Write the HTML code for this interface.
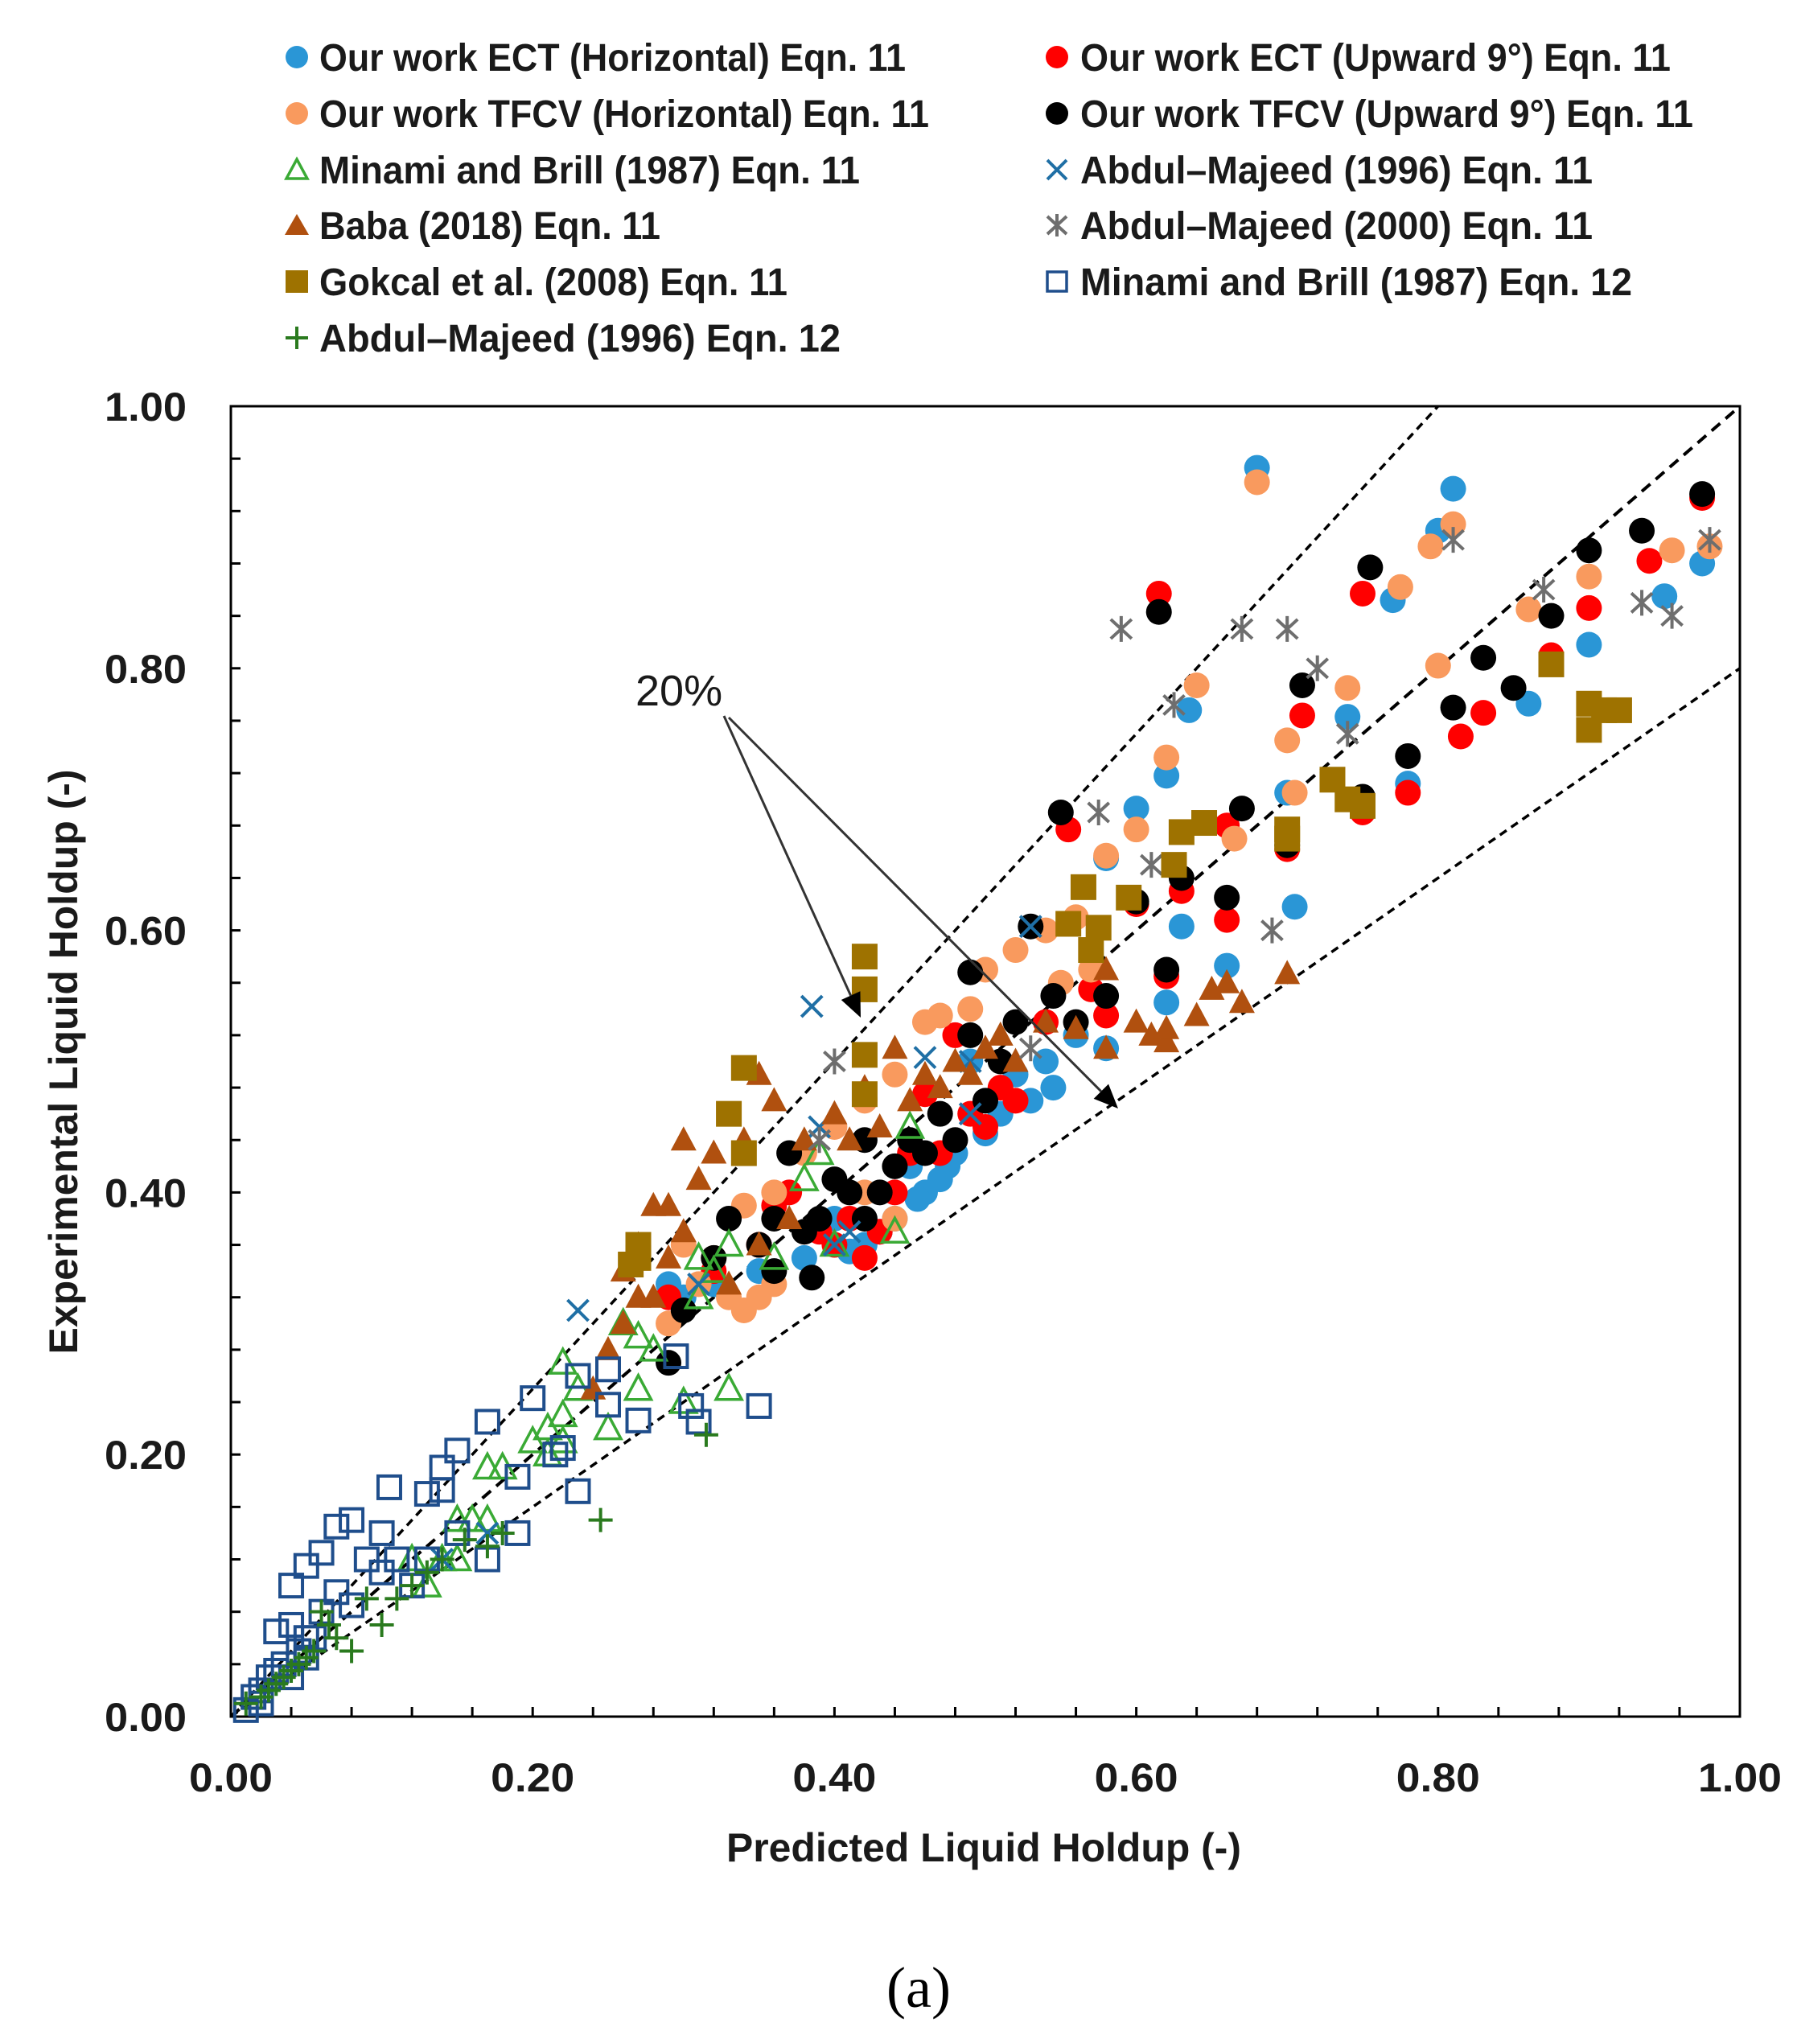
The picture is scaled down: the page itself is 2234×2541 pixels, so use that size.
<!DOCTYPE html>
<html><head><meta charset="utf-8"><style>
html,body{margin:0;padding:0;background:#fff;}
svg{display:block;}
</style></head><body>
<svg id="s" xmlns="http://www.w3.org/2000/svg" width="2234" height="2541" viewBox="0 0 2234 2541" font-family="'Liberation Sans', sans-serif">
<rect width="2234" height="2541" fill="#fff"/>
<g id="legend" font-weight="bold" font-size="48" fill="#1a1a1a">
<circle cx="369" cy="71" r="14" fill="#2a96d6"/><text x="397" y="88" textLength="729" lengthAdjust="spacingAndGlyphs">Our work ECT (Horizontal) Eqn. 11</text>
<circle cx="369" cy="141" r="14" fill="#f99a5e"/><text x="397" y="158" textLength="758" lengthAdjust="spacingAndGlyphs">Our work TFCV (Horizontal) Eqn. 11</text>
<path d="M369,198 L382,222 L356,222 Z" fill="none" stroke="#3aaa35" stroke-width="3.5"/><text x="397" y="228" textLength="672" lengthAdjust="spacingAndGlyphs">Minami and Brill (1987) Eqn. 11</text>
<path d="M369,266 L384,292 L354,292 Z" fill="#b0500f"/><text x="397" y="297" textLength="424" lengthAdjust="spacingAndGlyphs">Baba (2018) Eqn. 11</text>
<rect x="355" y="336" width="28" height="28" fill="#9e7200"/><text x="397" y="367" textLength="582" lengthAdjust="spacingAndGlyphs">Gokcal et al. (2008) Eqn. 11</text>
<path d="M369,406 V434 M355,420 H383" stroke="#2a7a1e" stroke-width="4"/><text x="397" y="437" textLength="648" lengthAdjust="spacingAndGlyphs">Abdul–Majeed (1996)  Eqn. 12</text>
<circle cx="1314" cy="71" r="14" fill="#f00"/><text x="1343" y="88" textLength="734" lengthAdjust="spacingAndGlyphs">Our work ECT (Upward 9°) Eqn. 11</text>
<circle cx="1314" cy="141" r="14" fill="#000"/><text x="1343" y="158" textLength="762" lengthAdjust="spacingAndGlyphs">Our work TFCV (Upward 9°) Eqn. 11</text>
<path d="M1302,199 L1326,223 M1326,199 L1302,223" stroke="#1f6fa5" stroke-width="4"/><text x="1343" y="228" textLength="637" lengthAdjust="spacingAndGlyphs">Abdul–Majeed (1996) Eqn. 11</text>
<path d="M1302,269 L1326,291 M1326,269 L1302,291 M1314,266 V294" stroke="#6e6e6e" stroke-width="4"/><text x="1343" y="297" textLength="637" lengthAdjust="spacingAndGlyphs">Abdul–Majeed (2000) Eqn. 11</text>
<rect x="1302" y="338" width="24" height="24" fill="none" stroke="#1f4e8c" stroke-width="3.5"/><text x="1343" y="367" textLength="686" lengthAdjust="spacingAndGlyphs">Minami and Brill (1987)  Eqn. 12</text>
</g>
<g id="axes"></g>
<g id="pts"></g>
<g id="ann"></g>
<text x="1223" y="2314" font-weight="bold" font-size="50" fill="#1a1a1a" text-anchor="middle" textLength="640" lengthAdjust="spacingAndGlyphs">Predicted Liquid Holdup (-)</text>
<text transform="translate(96,1320) rotate(-90)" font-weight="bold" font-size="50" fill="#1a1a1a" text-anchor="middle" textLength="727" lengthAdjust="spacingAndGlyphs">Experimental Liquid Holdup (-)</text>
<text x="1142" y="2495" font-family="'Liberation Serif', serif" font-size="72" fill="#000" text-anchor="middle">(a)</text>
</svg>
<script>
var NS="http://www.w3.org/2000/svg";
function X(p){return 287+p*1876;}
function Y(e){return 2134-e*1629;}
function el(par,tag,attrs,txt){var e=document.createElementNS(NS,tag);for(var k in attrs)e.setAttribute(k,attrs[k]);if(txt!==undefined)e.textContent=txt;par.appendChild(e);return e;}
var ax=document.getElementById('axes');
el(ax,'rect',{x:287,y:505,width:1876,height:1629,fill:'none',stroke:'#000','stroke-width':3});
for(var i=1;i<25;i++){var v=i*0.04;
 el(ax,'line',{x1:X(v),x2:X(v),y1:2134,y2:2122,stroke:'#000','stroke-width':3});
 el(ax,'line',{x1:287,x2:299,y1:Y(v),y2:Y(v),stroke:'#000','stroke-width':3});}
var labs=['0.00','0.20','0.40','0.60','0.80','1.00'];
for(var i=0;i<6;i++){var v=i*0.2;
 el(ax,'text',{x:X(v),y:2227,'text-anchor':'middle','font-weight':'bold','font-size':50,fill:'#1a1a1a',textLength:104,lengthAdjust:'spacingAndGlyphs'},labs[i]);
 el(ax,'text',{x:232,y:Y(v)+18,'text-anchor':'end','font-weight':'bold','font-size':50,fill:'#1a1a1a',textLength:102,lengthAdjust:'spacingAndGlyphs'},labs[i]);}
el(ax,'line',{x1:X(0),y1:Y(0),x2:X(1),y2:Y(1),stroke:'#000','stroke-width':4,'stroke-dasharray':'14,9'});
el(ax,'line',{x1:X(0),y1:Y(0),x2:X(0.8),y2:Y(1),stroke:'#000','stroke-width':3.5,'stroke-dasharray':'10,7'});
el(ax,'line',{x1:X(0),y1:Y(0),x2:X(1),y2:Y(0.8),stroke:'#000','stroke-width':3.5,'stroke-dasharray':'10,7'});
var P=document.getElementById('pts');
function circ(c,L){L.forEach(function(p){el(P,'circle',{cx:X(p[0]),cy:Y(p[1]),r:16,fill:c});});}
function tri(c,L,open){L.forEach(function(p){var x=X(p[0]),y=Y(p[1]);
 el(P,'path',{d:'M'+x+','+(y-17)+' L'+(x+16)+','+(y+13)+' L'+(x-16)+','+(y+13)+' Z',fill:open?'none':c,stroke:open?c:'none','stroke-width':3.5});});}
function sq(c,L,open){L.forEach(function(p){var x=X(p[0]),y=Y(p[1]);
 if(open)el(P,'rect',{x:x-14,y:y-14,width:28,height:28,fill:'none',stroke:c,'stroke-width':4});
 else el(P,'rect',{x:x-16,y:y-16,width:32,height:32,fill:c});});}
function cross(c,L){L.forEach(function(p){var x=X(p[0]),y=Y(p[1]);
 el(P,'path',{d:'M'+(x-13)+','+(y-13)+' L'+(x+13)+','+(y+13)+' M'+(x+13)+','+(y-13)+' L'+(x-13)+','+(y+13),stroke:c,'stroke-width':4});});}
function star(c,L){L.forEach(function(p){var x=X(p[0]),y=Y(p[1]);
 el(P,'path',{d:'M'+(x-13)+','+(y-12)+' L'+(x+13)+','+(y+12)+' M'+(x+13)+','+(y-12)+' L'+(x-13)+','+(y+12)+' M'+x+','+(y-16)+' V'+(y+16),stroke:c,'stroke-width':4});});}
function plus(c,L){L.forEach(function(p){var x=X(p[0]),y=Y(p[1]);
 el(P,'path',{d:'M'+x+','+(y-15)+' V'+(y+15)+' M'+(x-15)+','+y+' H'+(x+15),stroke:c,'stroke-width':4});});}

circ('#2a96d6',[[0.680,0.953],[0.810,0.937],[0.800,0.905],[0.770,0.852],[0.975,0.880],[0.950,0.855],[0.900,0.818],[0.860,0.773],[0.780,0.712],[0.740,0.763],[0.700,0.705],[0.705,0.618],[0.660,0.573],[0.630,0.603],[0.620,0.545],[0.635,0.768],[0.620,0.718],[0.600,0.693],[0.580,0.655],[0.545,0.480],[0.540,0.500],[0.520,0.490],[0.500,0.445],[0.480,0.430],[0.460,0.400],[0.440,0.380],[0.420,0.360],[0.400,0.380],[0.380,0.350],[0.350,0.340],[0.320,0.330],[0.300,0.320],[0.290,0.330],[0.450,0.420],[0.470,0.410],[0.510,0.460],[0.530,0.470],[0.490,0.500],[0.560,0.520],[0.580,0.510],[0.410,0.355],[0.430,0.370],[0.455,0.395],[0.475,0.42]]);
circ('#ff0000',[[0.615,0.857],[0.750,0.857],[0.975,0.930],[0.940,0.882],[0.900,0.846],[0.875,0.810],[0.830,0.766],[0.815,0.748],[0.780,0.705],[0.750,0.690],[0.710,0.764],[0.700,0.662],[0.660,0.608],[0.620,0.565],[0.660,0.680],[0.630,0.630],[0.600,0.620],[0.580,0.535],[0.570,0.555],[0.555,0.677],[0.540,0.530],[0.520,0.470],[0.500,0.450],[0.480,0.520],[0.460,0.475],[0.450,0.430],[0.440,0.400],[0.430,0.370],[0.410,0.380],[0.390,0.370],[0.370,0.400],[0.350,0.360],[0.320,0.340],[0.290,0.320],[0.470,0.430],[0.490,0.460],[0.510,0.480],[0.400,0.360],[0.420,0.350],[0.360,0.390]]);
circ('#f99a5e',[[0.680,0.942],[0.810,0.910],[0.795,0.893],[0.775,0.862],[0.980,0.893],[0.955,0.890],[0.900,0.870],[0.860,0.845],[0.800,0.802],[0.740,0.785],[0.700,0.745],[0.705,0.705],[0.665,0.670],[0.640,0.787],[0.620,0.732],[0.600,0.677],[0.580,0.657],[0.560,0.610],[0.540,0.600],[0.520,0.585],[0.500,0.570],[0.490,0.540],[0.470,0.535],[0.460,0.530],[0.440,0.490],[0.420,0.470],[0.400,0.450],[0.380,0.430],[0.360,0.400],[0.340,0.390],[0.320,0.350],[0.300,0.360],[0.290,0.300],[0.340,0.310],[0.350,0.320],[0.360,0.330],[0.550,0.560],[0.570,0.570],[0.440,0.380],[0.420,0.400],[0.330,0.320],[0.310,0.330]]);
circ('#000000',[[0.615,0.843],[0.755,0.877],[0.975,0.933],[0.935,0.905],[0.900,0.890],[0.875,0.840],[0.830,0.808],[0.850,0.785],[0.810,0.770],[0.780,0.733],[0.750,0.702],[0.710,0.787],[0.700,0.665],[0.660,0.625],[0.670,0.693],[0.630,0.640],[0.620,0.570],[0.600,0.622],[0.550,0.690],[0.530,0.603],[0.490,0.568],[0.520,0.530],[0.560,0.530],[0.580,0.550],[0.545,0.550],[0.510,0.500],[0.500,0.470],[0.490,0.520],[0.470,0.460],[0.450,0.440],[0.440,0.420],[0.420,0.440],[0.410,0.400],[0.400,0.410],[0.390,0.380],[0.380,0.370],[0.370,0.430],[0.360,0.380],[0.350,0.360],[0.330,0.380],[0.320,0.350],[0.300,0.310],[0.290,0.270],[0.385,0.335],[0.430,0.400],[0.460,0.430],[0.480,0.440],[0.420,0.380],[0.360,0.340]]);
tri('#3aaa35',[[0.450,0.450],[0.440,0.370],[0.400,0.360],[0.380,0.410],[0.390,0.430],[0.360,0.350],[0.330,0.360],[0.320,0.340],[0.330,0.250],[0.310,0.320],[0.310,0.350],[0.300,0.240],[0.270,0.290],[0.270,0.250],[0.250,0.220],[0.230,0.250],[0.220,0.270],[0.220,0.230],[0.210,0.220],[0.210,0.200],[0.220,0.210],[0.200,0.210],[0.180,0.190],[0.170,0.190],[0.170,0.150],[0.150,0.150],[0.150,0.120],[0.130,0.100],[0.120,0.120],[0.140,0.120],[0.160,0.150],[0.260,0.300],[0.280,0.280]],true);
cross('#1f6fa5',[[0.385,0.542],[0.230,0.310],[0.460,0.503],[0.530,0.603],[0.490,0.500],[0.390,0.450],[0.410,0.370],[0.400,0.360],[0.310,0.330],[0.170,0.140],[0.140,0.120],[0.490,0.460]]);
tri('#b0500f',[[0.700,0.567],[0.660,0.560],[0.670,0.545],[0.640,0.535],[0.650,0.555],[0.620,0.515],[0.610,0.520],[0.580,0.510],[0.560,0.525],[0.540,0.530],[0.520,0.500],[0.500,0.510],[0.480,0.500],[0.460,0.490],[0.440,0.510],[0.420,0.480],[0.400,0.460],[0.380,0.440],[0.360,0.470],[0.350,0.490],[0.340,0.440],[0.320,0.430],[0.300,0.440],[0.310,0.410],[0.290,0.390],[0.280,0.390],[0.270,0.360],[0.260,0.340],[0.270,0.320],[0.260,0.300],[0.250,0.280],[0.240,0.250],[0.280,0.320],[0.290,0.350],[0.300,0.370],[0.330,0.330],[0.350,0.360],[0.370,0.380],[0.410,0.440],[0.430,0.450],[0.450,0.470],[0.470,0.480],[0.490,0.490],[0.510,0.520],[0.580,0.570],[0.600,0.530],[0.620,0.525]],false);
star('#6e6e6e',[[0.590,0.830],[0.670,0.830],[0.700,0.830],[0.810,0.898],[0.870,0.860],[0.935,0.850],[0.955,0.840],[0.980,0.898],[0.720,0.800],[0.625,0.772],[0.740,0.750],[0.575,0.690],[0.610,0.650],[0.690,0.600],[0.530,0.510],[0.390,0.440],[0.400,0.500]]);
sq('#9e7200',[[0.420,0.580],[0.420,0.555],[0.420,0.505],[0.420,0.475],[0.340,0.495],[0.330,0.460],[0.340,0.430],[0.270,0.360],[0.265,0.345],[0.270,0.350],[0.565,0.633],[0.555,0.605],[0.575,0.602],[0.570,0.585],[0.595,0.625],[0.625,0.650],[0.630,0.675],[0.645,0.682],[0.700,0.677],[0.700,0.670],[0.730,0.715],[0.740,0.700],[0.750,0.695],[0.875,0.803],[0.900,0.773],[0.900,0.753],[0.910,0.768],[0.920,0.768]],false);
sq('#1f4e8c',[[0.350,0.237],[0.295,0.275],[0.270,0.226],[0.305,0.237],[0.310,0.225],[0.250,0.238],[0.250,0.265],[0.230,0.260],[0.230,0.172],[0.220,0.205],[0.215,0.200],[0.200,0.243],[0.190,0.183],[0.170,0.225],[0.150,0.203],[0.140,0.190],[0.130,0.170],[0.140,0.173],[0.105,0.175],[0.100,0.140],[0.080,0.150],[0.090,0.120],[0.070,0.145],[0.060,0.125],[0.050,0.115],[0.040,0.100],[0.030,0.065],[0.040,0.070],[0.050,0.060],[0.060,0.080],[0.070,0.095],[0.080,0.085],[0.100,0.110],[0.110,0.120],[0.120,0.100],[0.170,0.120],[0.190,0.140],[0.150,0.140],[0.130,0.120],[0.020,0.020],[0.025,0.030],[0.030,0.035],[0.035,0.040],[0.015,0.015],[0.020,0.010],[0.045,0.050],[0.055,0.060],[0.010,0.005],[0.04,0.03],[0.05,0.045]],true);
plus('#2a7a1e',[[0.315,0.215],[0.245,0.150],[0.180,0.140],[0.170,0.130],[0.130,0.110],[0.120,0.100],[0.110,0.090],[0.100,0.070],[0.080,0.050],[0.070,0.060],[0.060,0.080],[0.050,0.045],[0.040,0.035],[0.030,0.025],[0.020,0.015],[0.025,0.020],[0.035,0.030],[0.045,0.040],[0.090,0.090],[0.055,0.050],[0.065,0.070],[0.140,0.120],[0.155,0.135],[0.010,0.010]]);
var A=document.getElementById('ann');
el(A,'text',{x:790,y:877,'font-size':54,fill:'#1a1a1a'},'20%');
function arrow(x1,y1,x2,y2){var dx=x2-x1,dy=y2-y1,l=Math.sqrt(dx*dx+dy*dy),ux=dx/l,uy=dy/l,h=30,w=13;
 var bx=x2-ux*h,by=y2-uy*h;
 el(A,'line',{x1:x1,y1:y1,x2:bx,y2:by,stroke:'#333','stroke-width':3});
 el(A,'path',{d:'M'+x2+','+y2+' L'+(bx-uy*w)+','+(by+ux*w)+' L'+(bx+uy*w)+','+(by-ux*w)+' Z',fill:'#000'});}
arrow(900,890,1070,1265);
arrow(906,892,1390,1378);
</script>
</body></html>
